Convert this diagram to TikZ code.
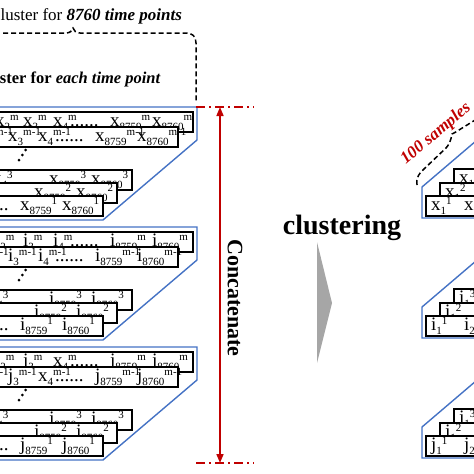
\documentclass[tikz,border=0pt]{standalone}
\usepackage{fontspec}
\setmainfont{Liberation Serif}
\usetikzlibrary{arrows.meta}
\definecolor{bl}{RGB}{68,114,196}
\definecolor{dred}{RGB}{192,0,0}
\definecolor{arrgray}{RGB}{166,166,166}
\newcommand\mysub[1]{\raisebox{-3.5pt}{\fontsize{11}{11}\selectfont #1}}
\newcommand\mysup[1]{\raisebox{6.5pt}{\fontsize{11}{11}\selectfont #1}}
\tikzset{
  rowbox/.style={draw=black, line width=1.6pt, fill=white},
  term/.style={anchor=base west, inner sep=0pt, font=\fontsize{19}{20}\selectfont},
  grp/.style={draw=bl, line width=1.4pt},
  dashline/.style={draw=black, line width=1.5pt, dash pattern=on 5pt off 3pt},
  redline/.style={draw=dred, line width=1.6pt},
  dashdot/.style={draw=dred, line width=1.8pt, dash pattern=on 9pt off 4pt on 2pt off 4pt},
}
% left rows: name, right edge, top, variable, variable of 4th term, superscript
\newcommand\lrow[6]{%
  \path[rowbox] ({#2-250},{#3}) rectangle ({#2},{#3+20});
  \node[term] (#1t1) at ({#2-228},{#3+14.5}) {#4\mysub{1}\mysup{#6}};
  \node[term] (#1t2) at ({#2-198},{#3+14.5}) {#4\mysub{2}\mysup{#6}};
  \node[term] (#1t3) at ({#2-170},{#3+14.5}) {#4\mysub{3}\mysup{#6}};
  \node[term] (#1t4) at ({#2-140},{#3+14.5}) {#5\mysub{4}\mysup{#6}};
  \node[term] (#1d)  at ({#2-123},{#3+14.5}) {......};
  \node[term] (#1t5) at ({#2-83},{#3+14.5}) {#4\mysub{8759}\mysup{#6}};
  \node[term] (#1t6) at ({#2-41},{#3+14.5}) {#4\mysub{8760}\mysup{#6}};
}
% right rows: name, left edge, top, variable, superscript
\newcommand\rrow[5]{%
  \path[rowbox] ({#2},{#3}) rectangle ({#2+250},{#3+20});
  \node[term] (#1t1) at ({#2+5},{#3+14.5}) {#4\mysub{1}\mysup{#5}};
  \node[term] (#1t2) at ({#2+38},{#3+14.5}) {#4\mysub{2}\mysup{#5}};
}
\begin{document}
\begin{tikzpicture}[x=1pt,y=-1pt]
\useasboundingbox (0,0) rectangle (474,474);
\clip (0,0) rectangle (474,474);

% top texts and brace
\node[anchor=base west, inner sep=0pt, font=\fontsize{17}{20}\selectfont] (title1) at (-11,20)
  {Cluster for \textbf{\textit{8760 time points}}};
\node[anchor=base west, inner sep=0pt, font=\bfseries\fontsize{16.5}{20}\selectfont] (title2) at (-26,83)
  {Cluster for \textit{each time point}};
\draw[dashline] (-5,33) -- (66,33) .. controls (70,33) and (72,31) .. (73,28)
  .. controls (74,31) and (76,33) .. (80,33) -- (186,33)
  .. controls (192,33) and (196,36) .. (196,43) -- (196,103);

% groups
\foreach \g/\v/\w/\n in {0/x/x/a,120/i/i/b,240/j/x/c}{
  \draw[grp] (-5,107+\g) -- (197,107+\g) -- (197,140+\g) -- (103,220+\g) -- (-5,220+\g);
  \lrow{\n m}{193}{112+\g}{\v}{\w}{m}
  \lrow{\n n}{178}{127+\g}{\v}{\w}{m-1}
  \fill (19,160+\g) circle[radius=1.5pt] (22.3,155+\g) circle[radius=1.5pt] (25.6,150+\g) circle[radius=1.5pt];
  \lrow{\n 3}{132}{170+\g}{\v}{\v}{3}
  \lrow{\n 2}{117}{183+\g}{\v}{\v}{2}
  \lrow{\n 1}{103}{196+\g}{\v}{\v}{1}
  \draw[grp] (490,218+\g) -- (422,218+\g) -- (422,187+\g) -- (490,129+\g);
  \rrow{r\n 3}{454}{169+\g}{\v}{3}
  \rrow{r\n 2}{440}{183+\g}{\v}{2}
  \rrow{r\n 1}{426}{196+\g}{\v}{1}
}

% concatenate
\coordinate (ctop) at (220,107);
\coordinate (cbot) at (220,463);
\draw[dashdot] (196,107) -- (254,107);
\draw[dashdot] (196,463) -- (254,463);
\draw[redline, {Triangle[length=9pt,width=7pt]}-{Triangle[length=9pt,width=7pt]}] (ctop) -- (cbot);
\node[rotate=-90, font=\bfseries\fontsize{22}{24}\selectfont, inner sep=0pt] (concat) at (235,298) {Concatenate};

% clustering
\node[anchor=base, inner sep=0pt, font=\bfseries\fontsize{28}{30}\selectfont] (clus) at (342,234) {clustering};
\fill[arrgray] (317,242) -- (332,303) -- (317,363) -- cycle;

% 100 samples
\draw[dashline] (417,185) .. controls (416,178) and (419,173) .. (424,169) -- (446,148)
  .. controls (449,145) and (451,140) .. (452,134)
  .. controls (454,133) and (456,132) .. (459,130) -- (480,117);
\node[rotate=40, font=\bfseries\itshape\fontsize{17}{19}\selectfont, text=dred, inner sep=0pt] (samp) at (436,134) {100 samples};
\end{tikzpicture}
\end{document}
